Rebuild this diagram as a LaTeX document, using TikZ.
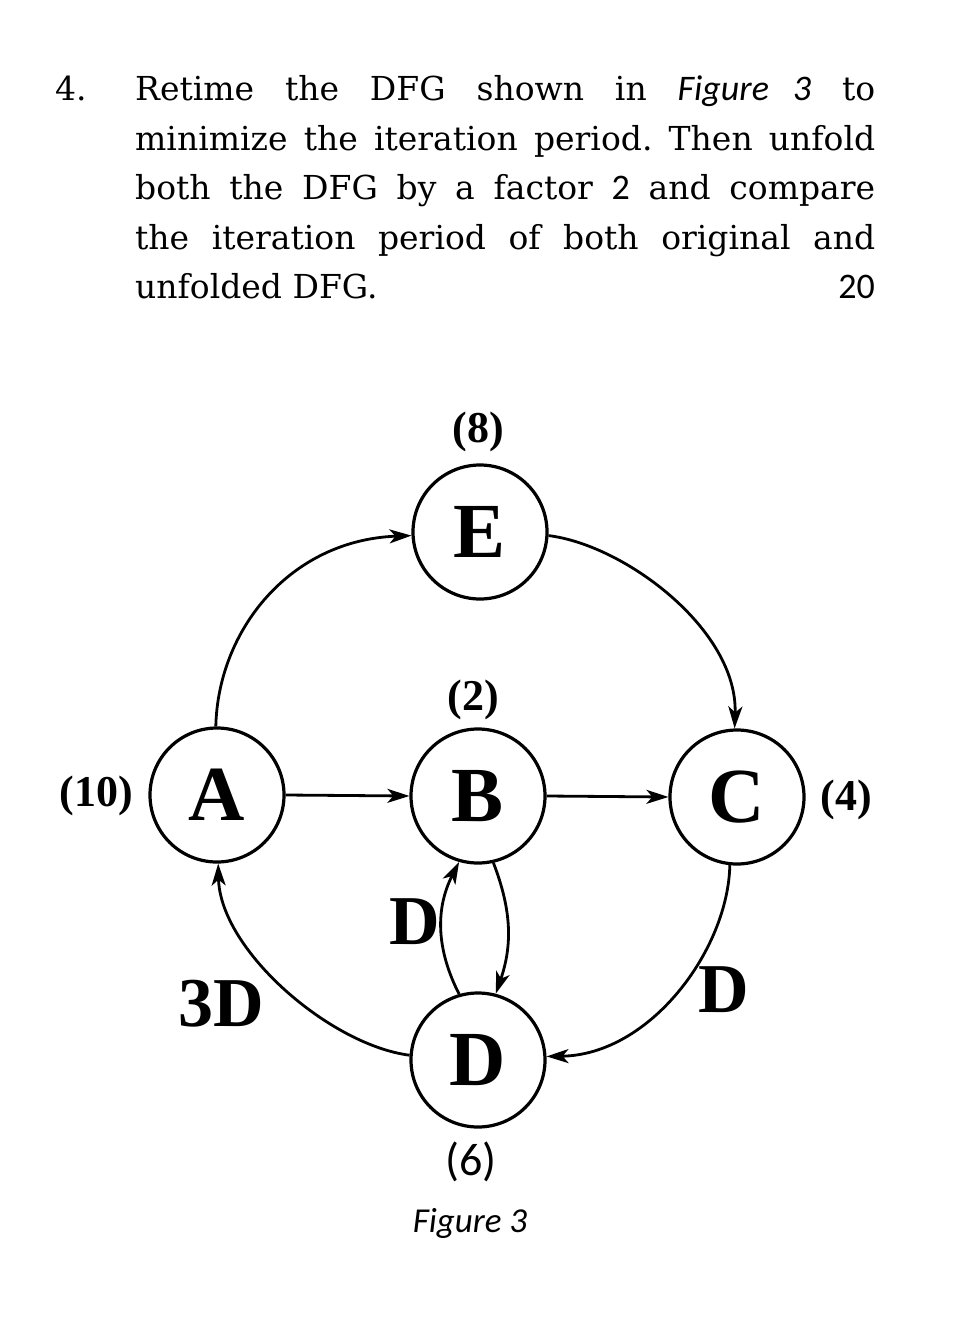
\documentclass[tikz,border=0pt]{standalone}
\usepackage{fontspec}
\setmainfont{DejaVu Serif}
\newfontfamily\nodefont{Liberation Serif}
\newfontfamily\sansfig{Carlito}
\usetikzlibrary{arrows.meta}
\frenchspacing
\begin{document}
\begin{tikzpicture}[x=1pt,y=-1pt,
  txt/.style={inner sep=0pt, anchor=base west, font=\fontsize{33}{40}\selectfont},
  vertex/.style={circle, draw, line width=3.2pt, minimum size=134pt, inner sep=0pt,
     font=\nodefont\bfseries\fontsize{78}{78}\selectfont},
  wlabel/.style={inner sep=0pt, font=\nodefont\bfseries\fontsize{44}{44}\selectfont},
  slabel/.style={inner sep=0pt, font=\sansfig\fontsize{46}{46}\selectfont},
  dlabel/.style={inner sep=0pt, font=\nodefont\bfseries\fontsize{70}{70}\selectfont},
  edge/.style={line width=2.8pt, -{Stealth[length=22pt,width=14pt,inset=6pt]}}]
\useasboundingbox (0,0) rectangle (962,1333);
% question text
\node[txt] (num) at (55,100) {4.};
\node[txt] (l1) at (135,100) {\makebox[740pt][s]{Retime the DFG shown in {\sansfig\itshape\fontsize{36}{40}\selectfont Figure 3} to}};
\node[txt] (l2) at (135,150) {\makebox[740pt][s]{minimize the iteration period. Then unfold}};
\node[txt] (l3) at (135,199) {\makebox[740pt][s]{both the DFG by a factor {\sansfig\fontsize{36}{40}\selectfont 2} and compare}};
\node[txt] (l4) at (135,249) {\makebox[740pt][s]{the iteration period of both original and}};
\node[txt] (l5) at (135,298) {unfolded DFG.};
\node[txt, anchor=base east, font=\sansfig\fontsize{36}{40}\selectfont] (marks) at (875,298) {20};
% nodes
\node[vertex] (E) at (480,532) {E};
\node[vertex] (A) at (217,795) {A};
\node[vertex] (B) at (478,796) {B};
\node[vertex] (C) at (737,797) {C};
\node[vertex] (D) at (478,1060) {D};
% weights
\node[wlabel] (wE) at (478,432) {(8)};
\node[wlabel] (wB) at (473,700) {(2)};
\node[wlabel] (wA) at (96,796) {(10)};
\node[wlabel] (wC) at (846,800) {(4)};
\node[slabel] (wD) at (471,1162) {(6)};
% edges
\draw[edge] (A.91) .. controls (218,630) and (290,540) .. (E.183);
\draw[edge] (E.-3) .. controls (625,545) and (738,630) .. (C.92);
\draw[edge] (A.east) -- (B.west);
\draw[edge] (B.east) -- (C.west);
\draw[edge] (C.264) .. controls (728,950) and (650,1055) .. (D.3);
\draw[edge] (D.176) .. controls (330,1045) and (220,950) .. (A.271);
\draw[edge] (D.106) to[bend left=27] (B.254);
\draw[edge] (B.283) to[bend left=20] (D.75);
% delay labels
\node[dlabel] (d1) at (415,922) {D};
\node[dlabel] (d2) at (221,1004) {3D};
\node[dlabel] (d3) at (724,990) {D};
% caption
\node[inner sep=0pt, font=\sansfig\itshape\fontsize{35}{40}\selectfont] (cap) at (470,1223) {Figure 3};
\end{tikzpicture}
\end{document}
